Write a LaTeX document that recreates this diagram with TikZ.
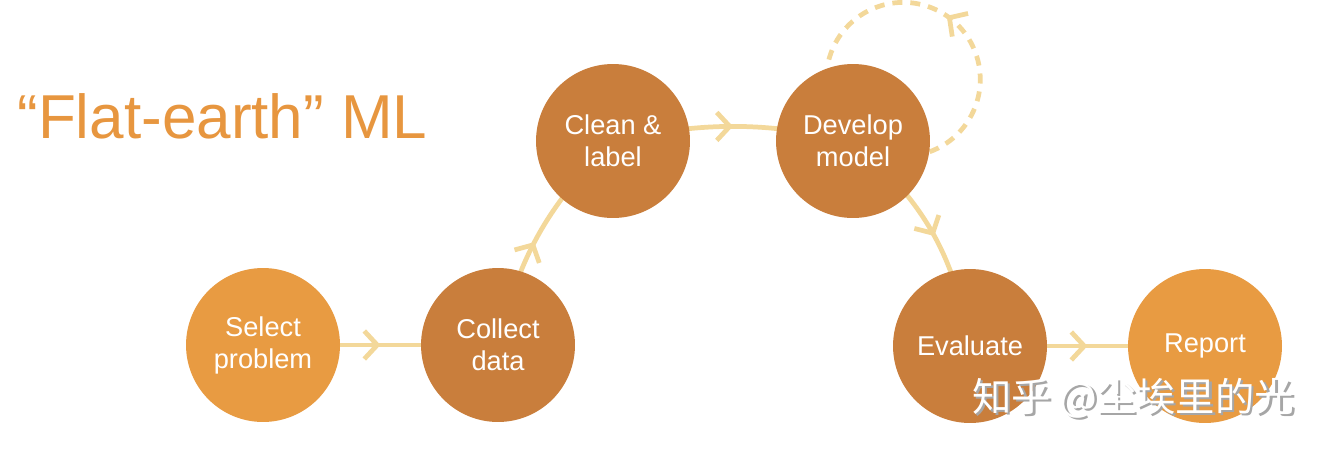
\documentclass[tikz,border=0pt]{standalone}
\usepackage{fontspec}
\setmainfont{Liberation Sans}
\newfontfamily\cjkfont{Noto Sans CJK SC}
\usetikzlibrary{arrows.meta,decorations.markings,backgrounds}
\definecolor{stagedark}{HTML}{C97E3C}
\definecolor{stagelight}{HTML}{E89B42}
\definecolor{flowyellow}{HTML}{F3D89A}
\definecolor{titleorange}{HTML}{E7963F}
\tikzset{
	stage/.style={circle, minimum size=3.08cm, inner sep=0pt, text=white, align=center, font=\fontsize{15.5}{18.2}\selectfont},
	flow/.style={flowyellow, line width=2.7pt, postaction={decorate}, decoration={markings, mark=at position #1 with {\arrow{Straight Barb[length=0.26cm, width=0.56cm]}}}},
	flow/.default=0.5
}

\begin{document}
\begin{tikzpicture}[x=0.02cm, y=0.02cm]
				\useasboundingbox (0, 0) rectangle (1328, 454);
				
				\node[anchor=base west, inner sep=0pt, text=titleorange, font=\fontsize{35.3}{40}\selectfont] (title) at (17, 316) {“Flat-earth” ML};
				
				\node[stage, fill=stagelight] (select) at (263, 109) {Select\\problem};
				\node[stage, fill=stagedark] (collect) at (498, 109) {Collect\\data};
				\node[stage, fill=stagedark] (clean) at (613, 313) {Clean \&\\label};
				\node[stage, fill=stagedark] (develop) at (853, 313) {Develop\\model};
				\node[stage, fill=stagedark] (evaluate) at (970, 108) {Evaluate};
				\node[stage, fill=stagelight] (report) at (1205, 108) {Report};
				
				\begin{pgfonlayer}{background}
					\draw[flow] (select.center) -- (collect.center);
					\draw[flow=0.46] (collect.center) to[bend left=16] (clean.center);
					\draw[flow] (clean.center) to[bend left=12] (develop.center);
					\draw[flow=0.52] (develop.center) to[bend left=20] (evaluate.center);
					\draw[flow] (evaluate.center) -- (report.center);
					\draw[flow=0.53, dash pattern=on 0.2cm off 0.16cm] (develop.-8) arc[start angle=-70, end angle=167, radius=77];
				\end{pgfonlayer}
				
				\node[anchor=west, inner sep=0pt, text=black!35, font=\cjkfont\fontsize{22.4}{25}\selectfont] (markshadow) at (974.5, 53.5) {知乎 @尘埃里的光};
				\node[anchor=west, inner sep=0pt, text=white, font=\cjkfont\fontsize{22.4}{25}\selectfont] (mark) at (972, 56) {知乎 @尘埃里的光};
			\end{tikzpicture}
\end{document}
